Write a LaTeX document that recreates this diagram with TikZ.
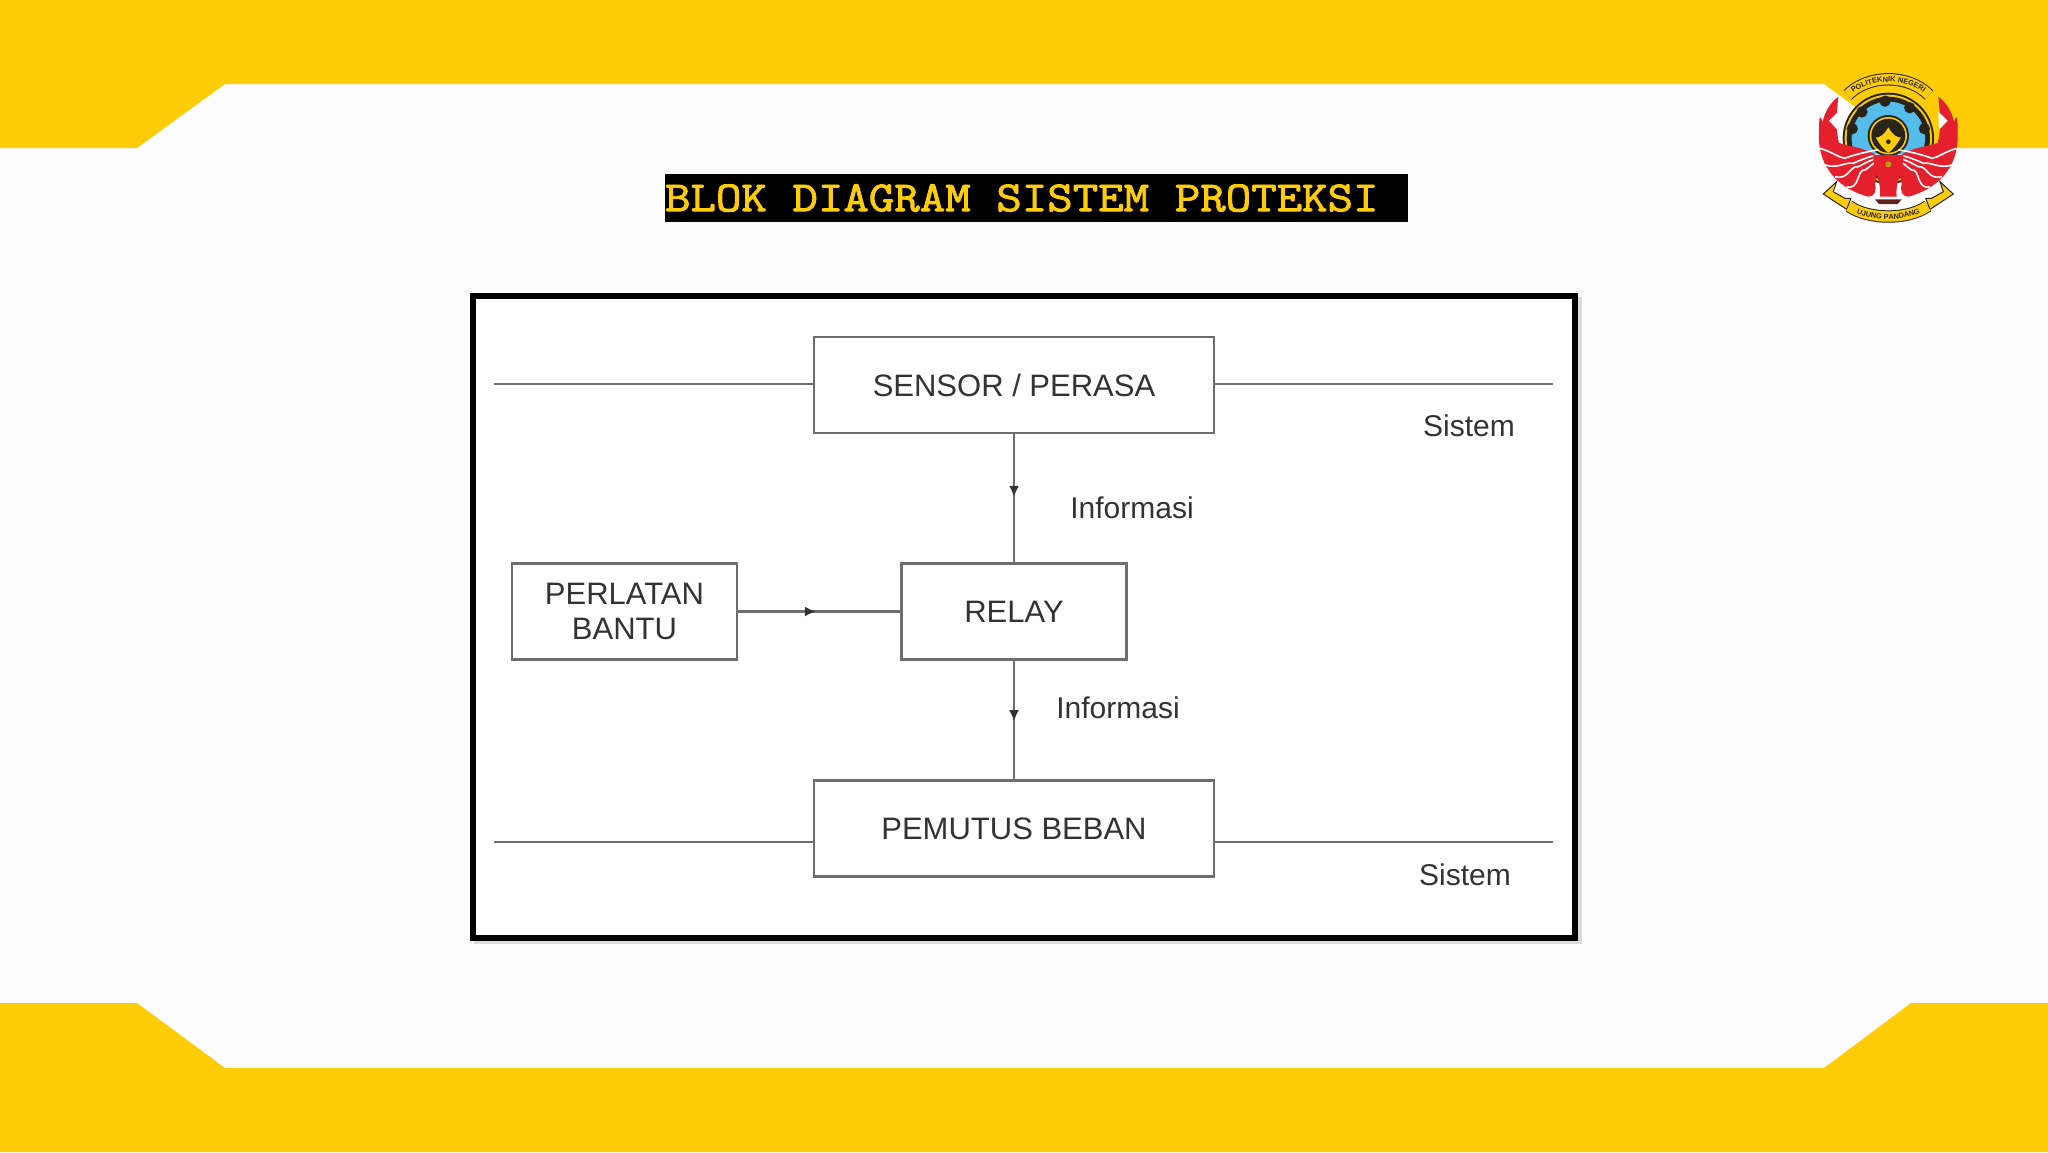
\documentclass[tikz,border=0pt]{standalone}
\usepackage{fontspec}
\setmainfont{Liberation Sans}
\newfontfamily\titleFont[FakeStretch=1.155,FakeBold=2.2]{Latin Modern Mono}
\usetikzlibrary{
  arrows.meta,
  decorations.markings,
  decorations.text
}
\definecolor{slideYellow}{HTML}{FFCC08}
\definecolor{slidePaper}{HTML}{FDFDFE}
\definecolor{blockGray}{HTML}{6E6E6E}
\definecolor{blockText}{HTML}{333333}
\definecolor{logoRed}{HTML}{E3202B}
\definecolor{logoBlue}{HTML}{55BDEB}
\definecolor{logoDark}{HTML}{2A2418}
\tikzset{
  blockBox/.style={
    draw=blockGray,
    line width=1.2pt,
    fill=white,
    text=blockText,
    align=center,
    font=\fontsize{15.5}{17.6}\selectfont,
    inner sep=0pt,
    outer sep=0pt,
    minimum width=200pt,
    minimum height=48pt
  },
  smallBox/.style={blockBox, minimum width=112.5pt},
  blockLine/.style={draw=blockGray, line width=1.2pt},
  midArrow/.style={
    blockLine,
    postaction={decorate},
    decoration={markings, mark=at position #1 with {\arrow[blockText]{Latex[length=5.5pt,width=5pt]}}}
  },
  sideLabel/.style={
    text=blockText,
    font=\fontsize{15}{18}\selectfont,
    inner sep=0pt
  },
  logoText/.style={
    decoration={text along path, text align=center,
      text={|\fontsize{3.7}{4}\bfseries\color{logoDark}|#1}},
    decorate
  }
}

\begin{document}
\begin{tikzpicture}[x=0.5pt,y=-0.5pt]
  \useasboundingbox (0,0) rectangle (2048,1152);
  \fill[slidePaper] (0,0) rectangle (2048,1152);

  % yellow bands
  \fill[slideYellow] (0,0) -- (2048,0) -- (2048,148) -- (1911,148) -- (1824,84)
    -- (225,84) -- (137,148) -- (0,148) -- cycle;
  \fill[slideYellow] (0,1152) -- (2048,1152) -- (2048,1003) -- (1911,1003) -- (1824,1068)
    -- (225,1068) -- (137,1003) -- (0,1003) -- cycle;

  % title
  \node[fill=black, text=slideYellow, inner sep=0pt, text width=371.5pt, align=left,
    minimum height=24pt, font=\titleFont\bfseries\fontsize{21.4}{24}\selectfont]
    (title) at (1036.5,198) {\spaceskip=12.85pt BLOK DIAGRAM SISTEM PROTEKSI};

  % frame
  \draw[black!14, line width=2pt] (476,299) rectangle (1580,942);
  \node[draw=black, line width=3pt, fill=white, inner sep=0pt,
    minimum width=551pt, minimum height=321pt] (frame) at (1024,617) {};

  % blocks
  \node[blockBox] (sensor) at (1014,385) {SENSOR / PERASA};
  \node[smallBox] (relay) at (1014,611.5) {RELAY};
  \node[smallBox] (bantu) at (624.5,611.5) {PERLATAN\\BANTU};
  \node[blockBox] (pemutus) at (1014,828.5) {PEMUTUS BEBAN};

  \coordinate (sensorLeft) at (494,384);
  \coordinate (sensorRight) at (1553,384);
  \coordinate (pemutusLeft) at (494,842);
  \coordinate (pemutusRight) at (1553,842);

  \foreach \a/\b in {sensor/Left,pemutus/Left} {
    \draw[blockLine] (\a\b) -- (\a\b -| \a.west);
  }
  \foreach \a/\b in {sensor/Right,pemutus/Right} {
    \draw[blockLine] (\a.east |- \a\b) -- (\a\b);
  }

  \draw[midArrow=0.49] (sensor) -- (relay);
  \draw[midArrow=0.51] (relay) -- (pemutus);
  \draw[midArrow=0.48] (bantu) -- (relay);

  \node[sideLabel] (sistemTop) at (1469,426) {Sistem};
  \node[sideLabel] (infoTop) at (1132,508) {Informasi};
  \node[sideLabel] (infoBottom) at (1118,708) {Informasi};
  \node[sideLabel] (sistemBottom) at (1465,875) {Sistem};

  % logo, drawn in its own grid around the middle of the crest
  \begin{scope}[shift={(1888.3,50)}, x=0.1667pt, y=-0.1667pt]
    % side flames
    \foreach \side in {1,-1} {
      \begin{scope}[xscale=\side]
        \fill[logoRed] (150,140) .. controls (190,170) and (210,225) .. (200,300)
          -- (145,290) .. controls (160,240) and (155,195) .. (150,140) -- cycle;
        \fill[white] (150,185) -- (178,212) -- (152,240) -- cycle;
      \end{scope}
    }
    % gear and blue field
    \fill[logoDark] (0,265) circle[radius=137];
    \fill[slideYellow] (0,265) circle[radius=131];
    \fill[logoDark] (0,265) circle[radius=125];
    \fill[logoBlue] (0,265) circle[radius=110];
    \foreach \ang in {-135,-95,-55,-15,-165} {
      \fill[logoDark] (0,265) ++(\ang:112) circle[radius=17];
    }
    \fill[logoDark] (0,257) circle[radius=62];
    \fill[slideYellow] (0,257) circle[radius=56];
    \fill[logoDark] (0,257) circle[radius=51];
    % emblem
    \fill[slideYellow] (0,232) .. controls (-12,255) and (-30,265) .. (-38,262)
      .. controls (-25,285) and (-12,300) .. (0,308)
      .. controls (12,300) and (25,285) .. (38,262)
      .. controls (30,265) and (12,255) .. (0,232) -- cycle;
    \fill[logoDark] (0,275) circle[radius=7];
    % wings
    \foreach \side in {1,-1} {
      \begin{scope}[xscale=\side]
        \fill[logoRed] (25,325) .. controls (80,275) and (170,300) .. (190,240)
          .. controls (205,185) and (208,190) .. (208,250)
          .. controls (212,330) and (170,410) .. (60,440)
          .. controls (40,440) and (35,420) .. (40,400) -- cycle;
        \foreach \a/\b/\c/\d in {205/295/130/325,190/345/105/340,160/380/90/350,125/410/70/360} {
          \draw[white, line width=0.8pt] (\a,\b) .. controls (\a-40,\b+12) and (\c+25,\d-5) .. (\c,\d)
            .. controls (\c-15,\d-8) and (45,\d-25) .. (30,\d-25);
        }
      \end{scope}
    }
    % body
    \fill[logoRed] (-45,315) -- (45,315) .. controls (45,370) and (20,390) .. (25,440)
      -- (-25,440) .. controls (-20,390) and (-45,370) .. (-45,315) -- cycle;
    \fill[slideYellow!70!logoDark] (0,343) circle[radius=9];
    \fill[logoDark!70!logoRed] (-40,448) -- (40,448) -- (28,462) -- (-28,462) -- cycle;
    % top banner
    \draw[logoDark, line width=6.2pt] (-122,135) .. controls (-60,72) and (60,72) .. (122,135);
    \draw[slideYellow, line width=5.2pt] (-122,135) .. controls (-60,72) and (60,72) .. (122,135);
    \path[logoText={POLITEKNIK NEGERI}] (-122,143) .. controls (-60,80) and (60,80) .. (122,143);
    % bottom ribbon
    \foreach \side in {1,-1} {
      \begin{scope}[xscale=\side]
        \fill[slideYellow, draw=logoDark, line width=0.5pt] (125,478) -- (195,432) -- (155,395)
          -- (165,425) -- (130,445) -- (112,445) -- cycle;
      \end{scope}
    }
    \draw[logoDark, line width=6.2pt] (-118,468) .. controls (-60,510) and (60,510) .. (118,468);
    \draw[slideYellow, line width=5.2pt] (-118,468) .. controls (-60,510) and (60,510) .. (118,468);
    \path[logoText={UJUNG PANDANG}] (-118,476) .. controls (-60,518) and (60,518) .. (118,476);
  \end{scope}
\end{tikzpicture}
\end{document}
